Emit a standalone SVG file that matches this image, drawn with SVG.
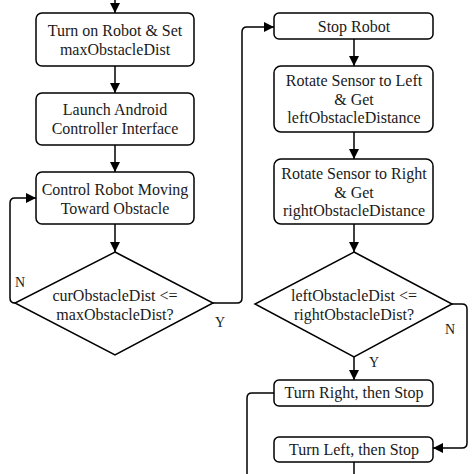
<svg xmlns="http://www.w3.org/2000/svg" width="474" height="474" viewBox="0 0 474 474">
<style>
.box{fill:#fff;stroke:#000;stroke-width:1.5}
.t{font-family:"Liberation Serif","Times New Roman",serif;font-size:16px;fill:#1a1a1a;text-anchor:middle}
.l{font-family:"Liberation Serif","Times New Roman",serif;font-size:14px;fill:#1a1a1a;text-anchor:middle}
.c{fill:none;stroke:#000;stroke-width:1.5}
</style>
<defs>
<marker id="ah" markerUnits="userSpaceOnUse" markerWidth="10" markerHeight="10" refX="10" refY="5" orient="auto">
<path d="M0,0 L10,5 L0,10 z" fill="#000"/>
</marker>
</defs>
<rect width="474" height="474" fill="#fff"/>
<g id="connectors">
<path class="c" d="M115,0 V13" marker-end="url(#ah)"/>
<path class="c" d="M115,66 V93" marker-end="url(#ah)"/>
<path class="c" d="M115,145 V172" marker-end="url(#ah)"/>
<path class="c" d="M115,224 V252" marker-end="url(#ah)"/>
<path class="c" d="M15,303 Q10,303 10,298 V203 Q10,198 15,198 H36" marker-end="url(#ah)"/>
<path class="c" d="M213,303 H237 Q242,303 242,298 V32 Q242,27 247,27 H274" marker-end="url(#ah)"/>
<path class="c" d="M354,39 V66" marker-end="url(#ah)"/>
<path class="c" d="M354,132 V159" marker-end="url(#ah)"/>
<path class="c" d="M354,224 V252" marker-end="url(#ah)"/>
<path class="c" d="M354,357 V380" marker-end="url(#ah)"/>
<path class="c" d="M452,304 H462 Q467,304 467,309 V443 Q467,448 462,448 H433" marker-end="url(#ah)"/>
<path class="c" d="M274,393 H252 Q247,393 247,398 V474"/>
<path class="c" d="M354,462 V474"/>
<text class="l" x="20" y="287">N</text>
<text class="l" x="220" y="327">Y</text>
<text class="l" x="450" y="334">N</text>
<text class="l" x="374" y="367">Y</text>
</g>
<g id="n1">
<rect class="box" x="36" y="13" width="158" height="53" rx="6"/>
<text class="t" x="115" y="36">Turn on Robot &amp; Set</text>
<text class="t" x="115" y="55">maxObstacleDist</text>
</g>
<g id="n2">
<rect class="box" x="36" y="93" width="158" height="52" rx="6"/>
<text class="t" x="115" y="115">Launch Android</text>
<text class="t" x="115" y="134">Controller Interface</text>
</g>
<g id="n3">
<rect class="box" x="36" y="172" width="158" height="52" rx="6"/>
<text class="t" x="115" y="195">Control Robot Moving</text>
<text class="t" x="115" y="214">Toward Obstacle</text>
</g>
<g id="d1">
<polygon class="box" points="115,252 213,303 115,355 15,303"/>
<text class="t" x="115" y="301">curObstacleDist &lt;=</text>
<text class="t" x="115" y="320">maxObstacleDist?</text>
</g>
<g id="n4">
<rect class="box" x="274" y="13" width="159" height="26" rx="5"/>
<text class="t" x="354" y="32">Stop Robot</text>
</g>
<g id="n5">
<rect class="box" x="274" y="66" width="159" height="66" rx="7"/>
<text class="t" x="354" y="86">Rotate Sensor to Left</text>
<text class="t" x="354" y="105">&amp; Get</text>
<text class="t" x="354" y="123">leftObstacleDistance</text>
</g>
<g id="n6">
<rect class="box" x="274" y="159" width="159" height="65" rx="7"/>
<text class="t" x="354" y="179">Rotate Sensor to Right</text>
<text class="t" x="354" y="198">&amp; Get</text>
<text class="t" x="354" y="216">rightObstacleDistance</text>
</g>
<g id="d2">
<polygon class="box" points="354,252 452,304 354,357 255,304"/>
<text class="t" x="354" y="301">leftObstacleDist &lt;=</text>
<text class="t" x="354" y="320">rightObstacleDist?</text>
</g>
<g id="n7">
<rect class="box" x="274" y="380" width="159" height="26" rx="5"/>
<text class="t" x="354" y="398">Turn Right, then Stop</text>
</g>
<g id="n8">
<rect class="box" x="274" y="437" width="159" height="25" rx="5"/>
<text class="t" x="354" y="455">Turn Left, then Stop</text>
</g>
</svg>
